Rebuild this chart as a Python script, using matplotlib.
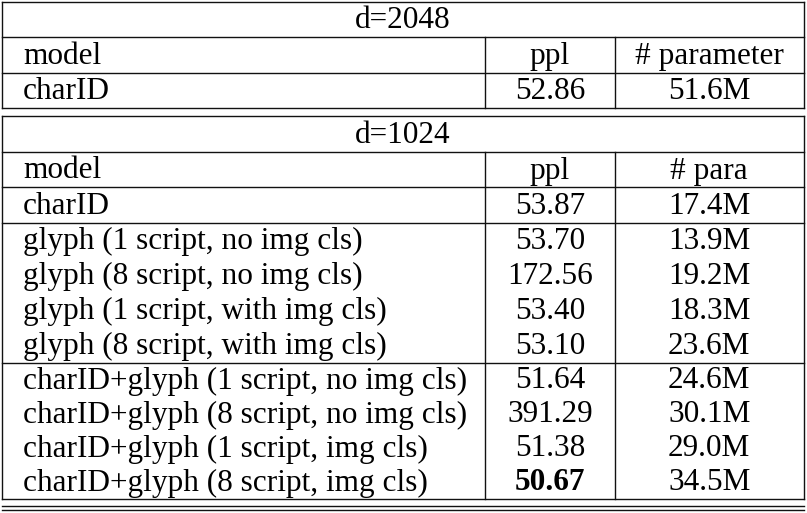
import matplotlib
matplotlib.use("Agg")
import matplotlib.pyplot as plt

# ---------------- data ----------------
title_2048 = "d=2048"
header_2048 = ["model", "ppl", "# parameter"]
models_2048 = ["charID"]
ppl_2048 = ["52.86"]
params_2048 = ["51.6M"]

title_1024 = "d=1024"
header_1024 = ["model", "ppl", "# para"]
models_1024 = [
    "charID",
    "glyph (1 script, no img cls)",
    "glyph (8 script, no img cls)",
    "glyph (1 script, with img cls)",
    "glyph (8 script, with img cls)",
    "charID+glyph (1 script, no img cls)",
    "charID+glyph (8 script, no img cls)",
    "charID+glyph (1 script, img cls)",
    "charID+glyph (8 script, img cls)",
]
ppl_1024 = ["53.87", "53.70", "172.56", "53.40", "53.10",
            "51.64", "391.29", "51.38", "50.67"]
params_1024 = ["17.4M", "13.9M", "19.2M", "18.3M", "23.6M",
               "24.6M", "30.1M", "29.0M", "34.5M"]
bold_ppl = "50.67"
groups_1024 = [1, 4, 4]  # row groups separated by rules

# ---------------- layout (pixels) ----------------
W, H = 807, 513
XL, XC1, XC2, XR = 1.5, 485.0, 614.7, 803.7
X_TEXT = 23.0
X_PPL = (XC1 + XC2) / 2
X_PAR = (XC2 + XR) / 2
X_MID = (XL + XR) / 2
FS = 22.5
LW = 1.0
FONT = "Liberation Serif"
BASE_OFF = 9.0

fig = plt.figure(figsize=(W / 100, H / 100), dpi=100)
ax = fig.add_axes([0, 0, 1, 1])
ax.set_xlim(0, W)
ax.set_ylim(H, 0)
ax.axis("off")


def hline(y, x0=XL, x1=XR):
    ax.plot([x0, x1], [y, y], color="#111111", lw=LW, solid_capstyle="projecting")


def vline(x, y0, y1):
    ax.plot([x, x], [y0, y1], color="#111111", lw=LW, solid_capstyle="projecting")


def txt(x, y, s, ha, bold=False):
    ax.text(x, y, s, ha=ha, va="baseline", fontsize=FS, family=FONT,
            fontweight="bold" if bold else "normal", color="black")


def row_text(yc, model, ppl, par):
    base = yc + BASE_OFF
    txt(X_TEXT, base, model, "left")
    txt(X_PPL, base, ppl, "center", bold=(ppl == bold_ppl))
    txt(X_PAR, base, par, "center")


# ---------- table d=2048 ----------
t1 = [1.5, 37.0, 73.0, 107.5]
for y in t1:
    hline(y)
vline(XL, t1[0], t1[-1])
vline(XR, t1[0], t1[-1])
vline(XC1, t1[1], t1[-1])
vline(XC2, t1[1], t1[-1])
txt(X_MID, (t1[0] + t1[1]) / 2 + BASE_OFF, title_2048, "center")
row_text((t1[1] + t1[2]) / 2, *header_2048)
for i, (m, p, q) in enumerate(zip(models_2048, ppl_2048, params_2048)):
    row_text((t1[2 + i] + t1[3 + i]) / 2, m, p, q)

# ---------- table d=1024 ----------
top2, y_title, y_head = 116.0, 152.0, 187.0
group_bounds = [187.0, 223.0, 362.5, 498.5]
for y in [top2, y_title, y_head] + group_bounds[1:]:
    hline(y)
vline(XL, top2, group_bounds[-1])
vline(XR, top2, group_bounds[-1])
vline(XC1, y_title, group_bounds[-1])
vline(XC2, y_title, group_bounds[-1])
txt(X_MID, (top2 + y_title) / 2 + BASE_OFF, title_1024, "center")
row_text((y_title + y_head) / 2, *header_1024)

idx = 0
for g, n in enumerate(groups_1024):
    y0, y1 = group_bounds[g], group_bounds[g + 1]
    h = (y1 - y0) / n
    for k in range(n):
        yc = y0 + h * (k + 0.5)
        row_text(yc, models_1024[idx], ppl_1024[idx], params_1024[idx])
        idx += 1

# bottom double rule
hline(506.0)
hline(510.2)

fig.savefig("out.png", dpi=100)
